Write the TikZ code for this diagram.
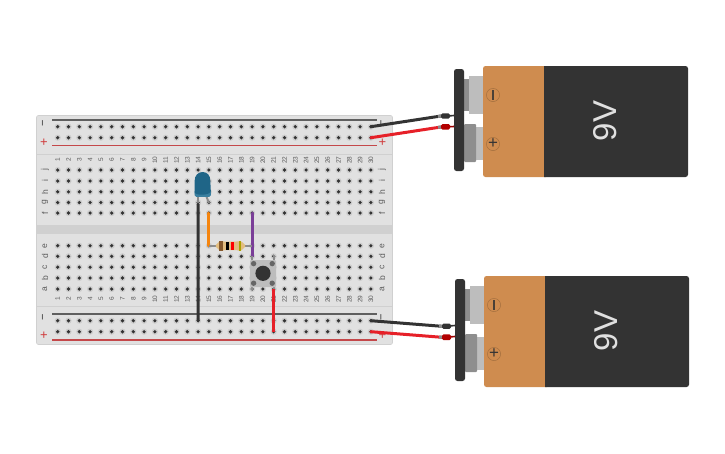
\documentclass[tikz,border=0pt]{standalone}
\usepackage{fontspec}
\setmainfont{Liberation Sans}
\definecolor{boardc}{HTML}{E1E1E1}
\definecolor{boardedge}{HTML}{D0D0D0}
\definecolor{groovec}{HTML}{D0D0D0}
\definecolor{halo}{HTML}{CDCDCD}
\definecolor{holec}{HTML}{333333}
\definecolor{railred}{HTML}{C4484A}
\definecolor{railblack}{HTML}{5F5F5F}
\definecolor{labelc}{HTML}{5A5A5A}
\definecolor{wiredark}{HTML}{333333}
\definecolor{wirered}{HTML}{E62028}
\definecolor{wireorange}{HTML}{F5850F}
\definecolor{wirepurple}{HTML}{7B3F98}
\definecolor{batorange}{HTML}{CF8C4F}
\definecolor{batdark}{HTML}{333333}
\definecolor{termlight}{HTML}{BDBDBD}
\definecolor{termmid}{HTML}{8E8E8E}
\definecolor{ledblue}{HTML}{1F6587}
\definecolor{ledrim}{HTML}{3A7F9F}
\definecolor{legc}{HTML}{8C8C8C}
\definecolor{restan}{HTML}{E2BD80}
\tikzset{
  x=1pt,y=-1pt,
  jumper/.style={line width=3pt,line cap=round},
  lead/.style={draw=legc,line width=2pt},
  numlabel/.style={font=\fontsize{6.5}{6.5}\selectfont,text=labelc,rotate=90,inner sep=0pt},
  letlabel/.style={font=\fontsize{8.5}{8.5}\selectfont,text=labelc,rotate=90,inner sep=0pt},
  minuslabel/.style={font=\fontsize{11}{11}\selectfont,text=wiredark,rotate=90,inner sep=0pt},
  pluslabel/.style={font=\fontsize{13}{13}\selectfont,text=railred!80!red,inner sep=0pt},
  batwire/.style={line width=3pt},
}
\newcommand{\holerow}[2]{%
  \foreach \c in {1,...,30}{%
    \pgfmathsetmacro{\hx}{57.7+10.8*(\c-1)}%
    \coordinate (#1-\c) at (\hx,#2);
    \fill[halo] (\hx,#2) circle[radius=3.1];
    \fill[holec] (\hx,#2) circle[radius=1.8];
  }%
}
\newcommand{\battery}[3]{% name, dx, dy
  \begin{scope}[shift={(#2,#3)}]
    \fill[termmid] (464,79) rectangle (470,111);
    \fill[termlight] (469,76) rectangle (484,114);
    \fill[termlight] (475,127) rectangle (484,160);
    \fill[termmid,rounded corners=1pt] (464,124) rectangle (476,162);
    \fill[batdark,rounded corners=2.5pt] (454,69) rectangle (464,171);
    \fill[batorange] (546,66) {[rounded corners=2.5pt] -- (483,66) -- (483,177)} -- (546,177) -- cycle;
    \fill[batdark] (544,66) {[rounded corners=2.5pt] -- (688,66) -- (688,177)} -- (544,177) -- cycle;
    \draw[batorange!80!black,line width=.5pt] (493,95) circle[radius=6.6];
    \draw[batorange!80!black,line width=.5pt] (493,144) circle[radius=6.6];
    \draw[batdark!85!batorange,line width=1.1pt] (493,90) -- (493,100);
    \node[inner sep=0pt,font=\fontsize{17}{17}\selectfont,text=batdark] (#1plus) at (493,144) {+};
    \node[inner sep=0pt,font=\fontsize{33}{33}\selectfont,text=white!88!black,rotate=90] (#1label) at (605,121) {9V};
    \coordinate (#1neg) at (454,115.5);
    \coordinate (#1pos) at (454,126.5);
  \end{scope}
}
\begin{document}
\begin{tikzpicture}
\useasboundingbox (0,0) rectangle (725,453);
% breadboard
\fill[boardc,draw=boardedge,line width=.6pt,rounded corners=2pt] (36.5,115.5) rectangle (392.5,344.5);
\draw[boardedge,line width=.8pt] (36.5,154) -- (392.5,154);
\draw[boardedge,line width=.8pt] (36.5,306) -- (392.5,306);
\fill[groovec] (37,225) rectangle (392,234);
\draw[railblack,line width=1.5pt] (52,120) -- (377,120);
\draw[railred,line width=1.5pt] (52,145.7) -- (377,145.7);
\draw[railblack,line width=1.5pt] (52,314) -- (377,314);
\draw[railred,line width=1.5pt] (52,340) -- (377,340);
\node[minuslabel] (tml) at (44,123.5) {−};
\node[pluslabel] (tpl) at (44,143) {+};
\node[minuslabel] (tmr) at (382.5,123.5) {−};
\node[pluslabel] (tpr) at (382.5,143) {+};
\node[minuslabel] (bml) at (44,317) {−};
\node[pluslabel] (bpl) at (44,336) {+};
\node[minuslabel] (bmr) at (382.5,317) {−};
\node[pluslabel] (bpr) at (382.5,336) {+};
\holerow{P1}{126.7}
\holerow{P2}{137.7}
\holerow{j}{170}
\holerow{i}{181}
\holerow{h}{191.8}
\holerow{g}{202.5}
\holerow{f}{213}
\holerow{e}{245.7}
\holerow{d}{256.3}
\holerow{c}{267.2}
\holerow{b}{278}
\holerow{a}{289}
\holerow{Q1}{320.7}
\holerow{Q2}{331.7}
\foreach \c in {1,...,30}{
  \pgfmathsetmacro{\hx}{57.7+10.8*(\c-1)}
  \node[numlabel] (nt\c) at (\hx,160) {\c};
  \node[numlabel] (nb\c) at (\hx,299) {\c};
}
\foreach \l/\y in {j/170,i/181,h/191.8,g/202.5,f/213,e/245.7,d/256.3,c/267.2,b/278,a/289}{
  \node[letlabel] (ll\l) at (45,\y) {\l};
  \node[letlabel] (lr\l) at (382,\y) {\l};
}
% batteries
\battery{A}{0}{0}
\battery{B}{1}{210}
% led legs
\coordinate (legL) at (198,204);
\draw[lead] (198,194) -- (198,204);
\draw[lead] (205.5,194) -- (208.9,203);
% jumpers
\draw[jumper,wiredark] (legL) -- (Q1-14);
\draw[jumper,wireorange] (f-15) -- (e-15);
\draw[jumper,wirepurple] (f-19) -- (d-19);
% led
\fill[ledrim,rounded corners=1.5pt] (194.6,190) rectangle (210.8,196.8);
\fill[ledblue] (194.6,194) -- (194.6,181) .. controls (194.6,175.5) and (198,172) .. (202.7,172) .. controls (207.5,172) and (210.3,175.5) .. (210.3,181) -- (210.8,191) .. controls (210.8,195.5) and (194.6,196) .. (194.6,192) -- cycle;
% resistor
\draw[lead] (e-15) -- (e-19);
\fill[restan,rounded corners=1.2pt] (215,245.7) -- (220,241) -- (225,241.6) -- (236,241.6) -- (241,241) -- (246,245.7) -- (241,251) -- (236,250) -- (225,250) -- (220,251) -- cycle;
\fill[brown!70!black] (219.3,240.8) rectangle (223,251.2);
\fill[black] (226,241.6) rectangle (228.6,250);
\fill[red] (231,241.6) rectangle (233.8,250);
\fill[olive!75!yellow] (239.3,241) rectangle (240.8,251);
% pushbutton
\foreach \px/\ya/\yb in {252.1/256/261,273.7/255/261,252.1/286/290,273.7/286/290}{
  \draw[lead] (\px,\ya) -- (\px,\yb);
}
\fill[termlight,rounded corners=1pt] (250,260) rectangle (276,287);
\foreach \px/\py in {253.6/263.6,272.2/263.6,253.6/283.2,272.2/283.2}{
  \fill[black!60] (\px,\py) circle[radius=2.7];
}
\fill[batdark] (263,273.3) circle[radius=7.6];
\draw[jumper,wirered,line cap=butt] (a-21) -- (Q2-21);
% battery leads, first battery
\coordinate (Atip) at (441,116);
\coordinate (Btip) at (441,127);
\draw[batwire,wiredark,line cap=round] (P1-30) -- (Atip);
\draw[batwire,wirered,line cap=round] (P2-30) -- (Btip);
\draw[line width=3pt,black!45] (438,116.4) -- (442,116);
\draw[line width=3pt,black!45] (438,127.3) -- (442,126.9);
\draw[line width=1.6pt,batdark] (448,116) -- (Aneg);
\draw[line width=1.6pt,red!60!black] (448,126.8) -- (Apos);
\fill[batdark,rounded corners=1.5pt] (441,113.4) rectangle (450,118.6);
\fill[red!70!black,rounded corners=1.5pt] (441,124) rectangle (450,129.6);
% second battery
\coordinate (Ctip) at (442,326.3);
\coordinate (Dtip) at (442,337.3);
\draw[batwire,wiredark,line cap=round] (Q1-30) -- (Ctip);
\draw[batwire,wirered,line cap=round] (Q2-30) -- (Dtip);
\draw[line width=3pt,black!45] (439,326.2) -- (443,326.3);
\draw[line width=3pt,black!45] (439,337) -- (443,337.2);
\draw[line width=1.6pt,batdark] (449,326) -- (Bneg);
\draw[line width=1.6pt,red!60!black] (449,337) -- (Bpos);
\fill[batdark,rounded corners=1.5pt] (442,323.6) rectangle (451,328.8);
\fill[red!70!black,rounded corners=1.5pt] (442,334.4) rectangle (451,340);
\end{tikzpicture}
\end{document}
